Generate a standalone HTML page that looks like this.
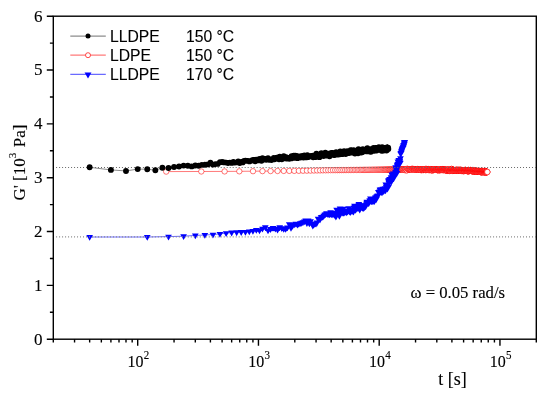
<!DOCTYPE html>
<html><head><meta charset="utf-8"><title>G' vs t</title>
<style>html,body{margin:0;padding:0;background:#fff;width:550px;height:397px;overflow:hidden}svg{display:block}</style>
</head><body>
<svg width="550" height="397" viewBox="0 0 550 397">
<rect width="550" height="397" fill="#fff"/>
<polyline fill="none" stroke="#8c8c8c" stroke-width="1" points="89.65,167.3 110.91,169.91 126,170.95 137.7,169.12 147.26,169.2 155.35,170.29 162.35,167.73 168.52,168.02 174.05,167.03 179.05,166.5 183.61,165.62 187.81,165.77 191.69,166.4 195.31,165.55 198.7,165.7 201.88,164.86 204.87,164.75 207.71,164.4 210.4,162.82 212.96,164.53 215.4,164.09 217.73,163.92 219.96,162.12 222.1,161.93 224.16,162.42 226.14,162.6 228.04,163.04 229.88,162.65 231.66,162.91 233.38,161.88 235.05,162.44 236.66,162.36 238.23,161.42 239.75,163.07 241.22,162.06 242.66,162.41 244.06,160.92 245.42,160.7 246.75,160.88 248.04,160.94 249.31,161.38 250.54,160.98 251.75,160.34 252.93,159.85 254.08,160.07 255.21,161.28 256.31,159.65 257.39,160.34 258.45,160.38 259.49,158.85 260.51,159.92 261.51,160.78 262.49,158.21 263.45,159.4 264.39,159.48 265.32,158.88 266.23,159.79 267.13,159.3 268.01,158.17 268.88,159.82 269.73,159.63 270.57,159.77 271.4,160.08 272.21,159.2 273.01,158.95 273.8,157.83 274.58,159.2 275.34,158.22 276.1,158.28 276.84,157.61 277.57,157.77 278.3,158.04 279.01,159.35 279.71,156.8 280.41,157.17 281.09,158.39 281.77,159.24 282.44,158.53 283.1,156.62 283.75,156.11 284.39,158.21 285.03,157.34 285.66,157 286.28,158.52 286.89,158.57 287.5,157.81 288.1,157.83 288.69,157.92 289.27,158.74 289.85,157.96 290.43,157.85 290.99,157.83 291.56,156.2 292.11,158.3 292.66,158.01 293.2,157.65 293.74,155.74 294.27,156.7 294.8,157.77 295.32,155.74 295.84,156.92 296.35,157.79 296.86,156.01 297.36,158.16 297.86,157.33 298.35,156.77 298.84,157.09 299.32,157.3 299.8,156.86 300.27,157.6 300.74,156.21 301.21,156.36 301.67,157.42 302.13,156.63 302.58,155.91 303.03,157.25 303.48,157.61 303.92,156.14 304.36,155.41 304.8,156.31 305.23,156.27 305.66,156.12 306.08,157.37 306.5,155.52 306.92,157.2 307.33,155.27 307.75,155.61 308.15,156.64 308.56,156.98 308.96,156.75 309.36,156.34 309.76,156.16 310.15,156.14 310.54,156.42 310.92,155.83 311.31,156.14 311.69,156.34 312.07,155.88 312.44,156.43 312.82,156.25 313.19,157.31 313.56,156.02 313.92,155.43 314.29,155.44 314.65,155.68 315,156.36 315.36,155.39 315.71,155.91 316.06,156.97 316.41,153.64 316.76,154.7 317.1,155.7 317.44,155.79 317.78,155.64 318.12,155.12 318.45,155.91 318.79,155.6 319.12,154.98 319.45,157.17 319.77,155.59 320.1,154.88 320.42,155.19 320.74,155.06 321.06,155.15 321.38,153.11 321.69,154.76 322.01,155.85 322.32,154.19 322.63,154.98 322.93,155.71 323.24,155.61 323.54,156.05 323.85,153.63 324.15,154.61 324.45,154.58 324.74,155.28 325.04,155.6 325.33,152.74 325.62,155.53 325.91,153.6 326.2,155.17 326.49,153.51 326.78,154.73 327.06,155.46 327.34,154.43 327.62,154.65 327.9,155.08 328.18,154.56 328.46,154.36 328.73,155.54 329.01,155.15 329.28,154.12 329.55,156.37 329.82,153.42 330.09,154.94 330.36,154.02 330.62,154.3 330.89,154.7 331.15,154.31 331.41,154.59 331.67,152.94 331.93,152.93 332.19,154.49 332.44,153.28 332.7,153.21 332.95,152.85 333.21,154.88 333.46,154.46 333.71,154.98 333.96,153.15 334.21,153.82 334.45,152.94 334.7,154.35 334.94,154.94 335.19,153.05 335.43,154.87 335.67,154.41 335.91,153.51 336.15,152.14 336.39,154.65 336.62,153.5 336.86,153.09 337.09,153.82 337.33,153.8 337.56,154.6 337.79,152.68 338.02,154.28 338.25,154.52 338.48,154.47 338.71,153.22 338.93,152.77 339.16,154.07 339.38,153.37 339.61,153.35 339.83,154.3 340.05,153.02 340.27,151.47 340.49,152.88 340.71,151.75 340.93,153.74 341.15,153.34 341.36,152.62 341.58,153.05 341.79,153.66 342.01,153.07 342.22,153.98 342.43,152.92 342.64,153.72 342.85,154.04 343.06,154.11 343.27,152.37 343.48,153.52 343.68,151.43 343.89,152 344.09,151.32 344.3,153.57 344.5,151.82 344.71,152.72 344.91,152.56 345.11,152.66 345.31,152.22 345.51,152.82 345.71,153.97 345.91,152.64 346.1,152.98 346.3,153.31 346.5,152.39 346.69,151.58 346.89,152.08 347.08,153.28 347.27,151.22 347.47,151.99 347.66,153.17 347.85,152.99 348.04,152.38 348.23,152.96 348.42,152.46 348.61,151.43 348.79,151.12 348.98,151.79 349.17,152.94 349.35,151.81 349.54,151.53 349.72,151.61 349.91,151.02 350.09,152.06 350.27,151.24 350.45,152.38 350.63,150.32 350.82,152.31 350.99,151.57 351.17,150.57 351.35,152.55 351.53,151.78 351.71,150.3 351.89,151.29 352.06,152.15 352.24,151.57 352.41,152.48 352.59,152.43 352.76,152.35 352.93,152.08 353.11,152.82 353.28,152.29 353.45,152.12 353.62,150.2 353.79,152.41 353.96,152.7 354.13,151.48 354.3,151.33 354.47,153.12 354.64,150.33 354.8,151.98 354.97,153.43 355.14,150.9 355.3,152.09 355.47,152.97 355.63,151.45 355.8,151.94 355.96,152.18 356.12,150.81 356.29,151.4 356.45,151.67 356.61,152.05 356.77,151.39 356.93,151.25 357.09,150.62 357.25,151.09 357.41,152.01 357.57,151.4 357.73,150.67 357.89,150.66 358.04,153.27 358.2,152.11 358.36,151.72 358.51,149.28 358.67,151.67 358.82,151.55 358.98,152.43 359.13,151.48 359.28,151.09 359.44,151.51 359.59,149.65 359.74,151.86 359.89,151.31 360.04,150.53 360.2,152.03 360.35,152.38 360.5,149.95 360.65,150.49 360.8,151.19 360.94,151.09 361.09,150.64 361.24,150.19 361.39,152.5 361.53,151.67 361.68,149.98 361.83,149.85 361.97,152.12 362.12,151.57 362.26,152.18 362.41,151.4 362.55,150.12 362.7,150.96 362.84,149.13 362.98,150.17 363.13,150.67 363.27,151.09 363.41,150.14 363.55,150.58 363.69,151 363.83,150.92 363.97,151.1 364.11,150.76 364.25,150.35 364.39,151.17 364.53,150.6 364.67,149.93 364.81,150.06 364.95,150.51 365.08,150.42 365.22,150.6 365.36,150.47 365.49,150.59 365.63,150.34 365.77,149.48 365.9,150.73 366.04,151.19 366.17,150.71 366.31,150.22 366.44,150.69 366.57,149.61 366.71,148.9 366.84,150.35 366.97,149.59 367.1,150.83 367.24,149.45 367.37,148.28 367.5,149.46 367.63,151.4 367.76,149.92 367.89,149.16 368.02,149.6 368.15,150.55 368.28,150.52 368.41,150.27 368.54,151.23 368.67,150.64 368.79,150.08 368.92,150.53 369.05,151.31 369.18,150.78 369.3,150.8 369.43,149.21 369.56,149.9 369.68,150.54 369.81,149.76 369.93,150.77 370.06,150.4 370.18,150.62 370.31,149.77 370.43,151.82 370.55,150.83 370.68,149.72 370.8,149.94 370.92,151.8 371.05,149.59 371.17,150.49 371.29,150.55 371.41,149.81 371.53,148.92 371.66,149.92 371.78,150.03 371.9,150.6 372.02,150.33 372.14,149.74 372.26,150.35 372.38,150.1 372.5,149.84 372.62,149.71 372.73,149.48 372.85,150.16 372.97,148.84 373.09,149.15 373.21,149.61 373.32,148.5 373.44,149.25 373.56,148.06 373.68,149.04 373.79,149.97 373.91,149.95 374.02,149.48 374.14,149.34 374.25,148.44 374.37,150.87 374.48,149.88 374.6,150.3 374.71,148.81 374.83,149.33 374.94,148.1 375.06,150.04 375.17,150.15 375.28,148.02 375.39,149.39 375.51,149.9 375.62,148.1 375.73,148.04 375.84,148.61 375.96,148.93 376.07,148.34 376.18,149.41 376.29,149.57 376.4,149.85 376.51,149.89 376.62,150.49 376.73,150.22 376.84,148.36 376.95,148.96 377.06,148.54 377.17,148.52 377.28,149.26 377.39,149.32 377.5,149.67 377.6,148.11 377.71,148.36 377.82,149.27 377.93,149.13 378.03,149.04 378.14,149.22 378.25,148.69 378.35,149.78 378.46,149.51 378.57,149.17 378.67,148.73 378.78,149.09 378.89,147.18 378.99,148.48 379.1,149.23 379.2,148.07 379.31,149.34 379.41,149.3 379.51,148.15 379.62,148.99 379.72,148.93 379.83,149.51 379.93,149.61 380.03,149.12 380.14,148.5 380.24,149.03 380.34,149.08 380.44,149.67 380.55,149.34 380.65,148.57 380.75,148.09 380.85,148.82 380.95,148.54 381.06,148.25 381.16,148.99 381.26,148.7 381.36,149.14 381.46,149.45 381.56,148.74 381.66,150.79 381.76,148.8 381.86,149.86 381.96,149.12 382.06,149.86 382.16,147.23 382.26,148.45 382.36,149.19 382.45,149.45 382.55,150.74 382.65,149.23 382.75,149.94 382.85,149.55 382.94,149.68 383.04,149.34 383.14,148.84 383.24,149.33 383.33,148.14 383.43,149.82 383.53,148.17 383.62,149.11 383.72,150.51 383.82,148.75 383.91,148.92 384.01,149.77 384.1,148.92 384.2,148.28 384.29,149.08 384.39,149.32 384.48,149.41 384.58,148.29 384.67,150.18 384.77,150.11 384.86,148.86 384.96,149.05 385.05,148.52 385.14,149.89 385.24,148.3 385.33,149.33 385.42,148.46 385.52,148.29 385.61,149.34 385.7,149.8 385.8,148.78 385.89,148.28 385.98,149.39 386.07,148.74 386.16,149 386.26,149.91 386.35,149.61 386.44,148.36 386.53,150.46 386.62,148.74 386.71,149.32 386.8,148.24 386.89,148.69 386.98,147.41 387.07,150.05 387.16,149.73 387.25,147.79 387.34,147.57 387.43,147.48 387.52,149.57 387.61,148.34 387.7,148.63 387.79,148.43 387.88,148.57 387.97,147.84 388.06,148.67 388.15,147.58 388.23,148.6 388.32,148.89"/>
<polyline fill="none" stroke="#ff7a7a" stroke-width="1" points="166.2,171.6 201.3,171.49 224.6,171.42 239.3,171.32 253,171.2 262.49,171.12 270.57,171.05 277.57,170.99 283.75,170.94 289.27,170.89 294.27,170.85 298.84,170.81 303.03,170.74 306.92,170.66 310.54,170.59 313.92,170.52 317.1,170.46 320.1,170.4 322.93,170.34 325.62,170.29 328.18,170.24 330.62,170.19 332.95,170.17 335.19,170.15 337.33,170.13 339.38,170.11 341.36,170.09 343.27,170.07 345.11,170.05 346.89,170.03 348.61,170.01 350.27,170 351.89,169.98 353.45,169.97 354.97,169.95 356.45,169.94 357.89,169.92 359.28,169.91 360.65,169.89 361.97,169.88 363.27,169.87 364.53,169.85 365.77,169.84 366.97,169.83 368.15,169.82 369.3,169.81 370.43,169.8 371.53,169.78 372.62,169.77 373.68,169.76 374.71,169.75 375.73,169.74 376.73,169.73 377.71,169.72 378.67,169.71 379.62,169.7 380.55,169.69 381.46,169.69 382.36,169.68 383.24,169.67 384.1,169.66 384.96,169.65 385.8,169.64 386.62,169.63 387.43,169.63 388.23,169.62 389.02,169.61 389.8,169.6 390.57,169.59 391.32,169.59 392.06,169.58 392.8,169.57 393.52,169.56 394.23,169.56 394.94,169.55 395.63,169.71 396.32,169.46 397,169.21 397.66,169.58 398.32,169.35 398.97,170.06 399.62,169.77 400.25,169.46 400.88,169.33 401.5,169.24 402.12,169.15 402.72,169.35 403.32,169.57 403.91,169.64 404.5,169.65 405.08,170.18 405.65,169.2 406.22,169.44 406.78,170.41 407.33,168.77 407.88,169.24 408.43,169.48 408.97,169.46 409.5,169.55 410.02,169.32 410.55,169.54 411.06,169.43 411.57,169.69 412.08,168.77 412.58,169.12 413.08,169.44 413.57,169.09 414.06,169.09 414.54,169.68 415.02,169.24 415.5,169.7 415.97,169.74 416.43,169.59 416.9,169.67 417.35,169.46 417.81,169.01 418.26,169.5 418.7,169.68 419.15,169.34 419.59,169.49 420.02,169.8 420.45,169.23 420.88,169.77 421.31,170.2 421.73,169.36 422.14,169.61 422.56,169.51 422.97,170.11 423.38,169.69 423.78,169.9 424.19,169.35 424.58,169.59 424.98,169.6 425.37,168.98 425.76,170.11 426.15,169.93 426.53,169.01 426.92,169.89 427.29,169.58 427.67,169.79 428.04,169.77 428.41,169.12 428.78,169.58 429.15,170.18 429.51,169.46 429.87,169.31 430.23,169.19 430.58,169.25 430.94,169.8 431.29,170.28 431.64,169.84 431.98,169.78 432.33,170.48 432.67,169.52 433.01,169.47 433.34,169.9 433.68,169.91 434.01,169.37 434.34,169.32 434.67,169.83 435,169.82 435.32,169.28 435.65,169.67 435.97,169.56 436.29,169.91 436.6,169.71 436.92,169.73 437.23,169.64 437.54,170.14 437.85,170.26 438.16,169.65 438.46,170.08 438.77,169.52 439.07,169.81 439.37,170.05 439.67,170.33 439.97,169.67 440.26,169.78 440.56,169.88 440.85,169.3 441.14,169.84 441.43,169.6 441.72,169.98 442,169.46 442.29,169.17 442.57,169.88 442.85,169.97 443.13,169.69 443.41,170.2 443.68,169.8 443.96,169.69 444.23,170.08 444.51,169.37 444.78,169.69 445.05,169.93 445.31,170.24 445.58,169.89 445.85,170.06 446.11,169.73 446.37,170.08 446.64,170.56 446.9,169.74 447.15,170.82 447.41,169.77 447.67,170.01 447.92,170.07 448.18,170.38 448.43,169.59 448.68,169.3 448.93,170.25 449.18,170.32 449.43,170.27 449.68,170.98 449.92,170.14 450.17,170.16 450.41,170.4 450.65,170.21 450.89,170.67 451.13,169.66 451.37,169.97 451.61,168.9 451.85,170.4 452.08,169.99 452.32,170.45 452.55,170.89 452.78,170.14 453.01,170.06 453.25,169.98 453.47,169.87 453.7,169.94 453.93,170.4 454.16,170.19 454.38,170.21 454.61,170.13 454.83,170.52 455.05,170.37 455.28,170.16 455.5,170.45 455.72,170.17 455.94,169.82 456.15,170.74 456.37,170.4 456.59,169.91 456.8,170.63 457.02,170.37 457.23,169.71 457.44,170.83 457.65,170.39 457.87,170.59 458.08,170.35 458.29,170.24 458.49,169.75 458.7,170.64 458.91,170.31 459.11,170.21 459.32,170.44 459.52,170.35 459.73,170.56 459.93,170.2 460.13,170.32 460.33,169.59 460.53,170.2 460.73,170.59 460.93,170.83 461.13,170.24 461.33,170.33 461.53,170.93 461.72,170.27 461.92,170.64 462.11,170.98 462.31,170.41 462.5,170.83 462.69,170.16 462.88,170.48 463.07,170.39 463.26,170.46 463.45,170.82 463.64,171.27 463.83,170.2 464.02,170.24 464.21,170.62 464.39,170.08 464.58,170.63 464.76,170.66 464.95,170.37 465.13,170.66 465.31,169.93 465.5,170.75 465.68,169.94 465.86,170.25 466.04,170.3 466.22,170.36 466.4,170.8 466.58,170.54 466.76,170.37 466.93,170.71 467.11,171.08 467.29,170.53 467.46,170.66 467.64,170.97 467.81,170.64 467.99,170.1 468.16,171.42 468.33,171.33 468.5,169.87 468.68,170.55 468.85,170.72 469.02,170.91 469.19,170.81 469.36,170.49 469.53,170.22 469.69,170.63 469.86,170.96 470.03,170.22 470.2,170.26 470.36,170.62 470.53,169.96 470.69,170.56 470.86,170.52 471.02,170.84 471.19,170.45 471.35,170.4 471.51,170.58 471.67,170.72 471.83,170.52 472,170.77 472.16,171.04 472.32,171.2 472.48,171.4 472.64,170.54 472.79,170.68 472.95,169.97 473.11,171.52 473.27,170.61 473.42,170.87 473.58,171.07 473.74,170.43 473.89,171.08 474.05,170.92 474.2,170.3 474.35,171.05 474.51,171.38 474.66,170.32 474.81,171.27 474.97,171.08 475.12,171.18 475.27,171.18 475.42,171.5 475.57,170.97 475.72,171.37 475.87,170.93 476.02,171.34 476.17,170.81 476.32,171.07 476.46,171.73 476.61,171.29 476.76,171.09 476.91,170.76 477.05,170.89 477.2,171.25 477.34,171.52 477.49,171.36 477.63,171.4 477.78,171.21 477.92,171.71 478.07,171.12 478.21,171.07 478.35,171.59 478.49,171.31 478.64,171.2 478.78,171.11 478.92,171.23 479.06,171.55 479.2,171.47 479.34,170.93 479.48,171.52 479.62,171.44 479.76,171.04 479.9,171.67 480.03,171.31 480.17,171.31 480.31,171.71 480.45,171.91 480.58,171.22 480.72,171.62 480.86,171.17 480.99,172.3 481.13,171.33 481.26,171.93 481.4,171.3 481.53,171.82 481.66,172.32 481.8,170.67 481.93,171.41 482.06,171.75 482.2,171.55 482.33,171.36 482.46,172.36 482.59,171.65 482.72,171.05 482.85,171.94 482.99,171.05 483.12,172.06 483.25,171.47 483.37,171.73 483.5,172.13 483.63,171.74 483.76,171.23 483.89,171.13 484.02,172.15 484.15,172 484.27,171.47 484.4,172.07 484.53,171.95 484.65,172.01 484.78,171.01 484.91,171.7 485.03,172.13 485.16,172.08 485.28,172.15 485.41,170.99 485.53,171.92 485.66,172.04 485.78,172.77 485.9,171.55 486.03,171.9 486.15,171.91 486.27,171.92 486.39,171.93 486.52,171.94 486.64,171.95 486.76,171.96 486.88,171.97 487,171.98 487.12,171.99 487.24,172 487.36,172"/>
<polyline fill="none" stroke="#6a6aff" stroke-width="1" points="89.65,237 147.26,237 168.52,236.6 183.61,236.2 195.31,235.41 204.87,235 212.96,234.59 219.96,233.9 226.14,233.16 231.66,232.54 236.66,232.27 241.22,232.05 245.42,231.87 249.31,231.45 252.93,230.91 256.31,229.95 259.49,230.41 262.49,228.74 265.32,227.19 268.01,230.33 270.57,229.03 273.01,227.84 275.34,228.75 277.57,229.71 279.71,227.09 281.77,228.16 283.75,228.95 285.66,228.87 287.5,227.45 289.27,224.22 290.99,227.79 292.66,225.64 294.27,224.35 295.84,223.69 297.36,224.67 298.84,223.93 300.27,223.12 301.67,222.76 303.03,222.23 304.36,221.49 305.66,220.44 306.92,223.08 308.15,220.48 309.36,223.36 310.54,221.31 311.69,223.7 312.82,225.61 313.92,224.43 315,223.57 316.06,223.52 317.1,222.54 318.12,218.8 319.12,219.3 320.1,219.31 321.06,217.26 322.01,216.88 322.93,216.68 323.85,215.62 324.74,214.73 325.62,214.17 326.49,213.22 327.34,213.87 328.18,213.79 329.01,213.99 329.82,214.44 330.62,212.25 331.41,214.09 332.19,214.41 332.95,212.97 333.71,214.2 334.45,214.85 335.19,213.74 335.91,216.58 336.62,209.74 337.33,212.81 338.02,210.26 338.71,213.9 339.38,215.97 340.05,208.49 340.71,212.12 341.36,212.62 342.01,211.42 342.64,212.56 343.27,208.6 343.89,212.88 344.5,212.16 345.11,211.62 345.71,210.72 346.3,212.39 346.89,210.77 347.47,211.72 348.04,210.64 348.61,208.17 349.17,211.22 349.72,211.51 350.27,212.08 350.82,209.44 351.35,210.27 351.89,210.84 352.41,209.84 352.93,211.03 353.45,211.75 353.96,207.35 354.47,205.61 354.97,209.17 355.47,209.92 355.96,208.89 356.45,208.55 356.93,206.37 357.41,206.06 357.89,208.13 358.36,205.43 358.82,204 359.28,204.97 359.74,209.68 360.2,208.43 360.65,205.34 361.09,205.33 361.53,206.53 361.97,205.4 362.41,207.91 362.84,206.29 363.27,205.12 363.69,208.04 364.11,205.81 364.53,206.82 364.95,206.58 365.36,205.83 365.77,206.14 366.17,204.47 366.57,202.64 366.97,201.76 367.37,202.45 367.76,202.63 368.15,203.08 368.54,202.74 368.92,202.91 369.3,201.97 369.68,200.45 370.06,200.18 370.43,198.36 370.8,200.57 371.17,201.22 371.53,201.15 371.9,200.24 372.26,200.05 372.62,201.26 372.97,200.03 373.32,200.77 373.68,200.46 374.02,199.9 374.37,201.09 374.71,198.71 375.06,198.77 375.39,197.64 375.73,197.06 376.07,199.3 376.4,198.96 376.73,196.3 377.06,196.38 377.39,196.53 377.71,195.52 378.03,195.44 378.35,191.91 378.67,192.1 378.99,192.86 379.31,193.49 379.62,191.34 379.93,189.64 380.24,190.03 380.55,189.53 380.85,189.17 381.16,191.88 381.46,189.2 381.76,189.85 382.06,192.3 382.36,191.01 382.65,189.87 382.94,188.61 383.24,189.72 383.53,191.05 383.82,189.73 384.1,190.38 384.39,188.87 384.67,189.25 384.96,188.28 385.24,188.98 385.52,190.29 385.8,184.4 386.07,186.7 386.35,186.88 386.62,184.83 386.89,184.93 387.16,186.7 387.43,188.71 387.7,185.54 387.97,184.52 388.23,180.35 388.5,186.9 388.76,182.79 389.02,182.16 389.28,179.58 389.54,181.3 389.8,178.82 390.06,180.76 390.31,181.15 390.57,179.9 390.82,180.03 391.07,177.4 391.32,181.6 391.57,177.08 391.82,174.39 392.06,177.3 392.31,175.79 392.55,174.94 392.8,175.9 393.04,176.84 393.28,173.55 393.52,175.29 393.76,178.08 394,176.25 394.23,174.23 394.47,174.45 394.7,173.62 394.94,173.43 395.17,174.65 395.4,172.54 395.63,167.3 395.86,171.46 396.09,169.11 396.32,171.59 396.55,168.46 396.77,169.38 397,172.83 397.22,165.79 397.44,165.04 397.66,163.87 397.88,161.32 398.1,161.77 398.32,165.66 398.54,162.98 398.76,159.85 398.97,159.96 399.19,163.5 399.4,160.05 399.62,160.21 399.83,160.95 400.04,162.35 400.25,162.84 400.46,158.22 400.67,153.65 400.88,152.93 401.09,153.15 401.3,152.43 401.5,150.89 401.71,150.86 401.91,150.26 402.12,149.63 402.32,148.82 402.52,147.84 402.72,147.83 402.92,146.74 403.12,147.92 403.32,146.87 403.52,145.09 403.72,145.92 403.91,144.88 404.11,142.48 404.3,144 404.5,142.66 404.69,141.9"/>
<g fill="#fff" stroke="#ff0000" stroke-width="0.55">
<circle cx="166.2" cy="171.6" r="2.7"/>
<circle cx="201.3" cy="171.49" r="2.7"/>
<circle cx="224.6" cy="171.42" r="2.7"/>
<circle cx="239.3" cy="171.32" r="2.7"/>
<circle cx="253" cy="171.2" r="2.7"/>
<circle cx="262.49" cy="171.12" r="2.7"/>
<circle cx="270.57" cy="171.05" r="2.7"/>
<circle cx="277.57" cy="170.99" r="2.7"/>
<circle cx="283.75" cy="170.94" r="2.7"/>
<circle cx="289.27" cy="170.89" r="2.7"/>
<circle cx="294.27" cy="170.85" r="2.7"/>
<circle cx="298.84" cy="170.81" r="2.7"/>
<circle cx="303.03" cy="170.74" r="2.7"/>
<circle cx="306.92" cy="170.66" r="2.7"/>
<circle cx="310.54" cy="170.59" r="2.7"/>
<circle cx="313.92" cy="170.52" r="2.7"/>
<circle cx="317.1" cy="170.46" r="2.7"/>
<circle cx="320.1" cy="170.4" r="2.7"/>
<circle cx="322.93" cy="170.34" r="2.7"/>
<circle cx="325.62" cy="170.29" r="2.7"/>
<circle cx="328.18" cy="170.24" r="2.7"/>
<circle cx="330.62" cy="170.19" r="2.7"/>
<circle cx="332.95" cy="170.17" r="2.7"/>
<circle cx="335.19" cy="170.15" r="2.7"/>
<circle cx="337.33" cy="170.13" r="2.7"/>
<circle cx="339.38" cy="170.11" r="2.7"/>
<circle cx="341.36" cy="170.09" r="2.7"/>
<circle cx="343.27" cy="170.07" r="2.7"/>
<circle cx="345.11" cy="170.05" r="2.7"/>
<circle cx="346.89" cy="170.03" r="2.7"/>
<circle cx="348.61" cy="170.01" r="2.7"/>
<circle cx="350.27" cy="170" r="2.7"/>
<circle cx="351.89" cy="169.98" r="2.7"/>
<circle cx="353.45" cy="169.97" r="2.7"/>
<circle cx="354.97" cy="169.95" r="2.7"/>
<circle cx="356.45" cy="169.94" r="2.7"/>
<circle cx="357.89" cy="169.92" r="2.7"/>
<circle cx="359.28" cy="169.91" r="2.7"/>
<circle cx="360.65" cy="169.89" r="2.7"/>
<circle cx="361.97" cy="169.88" r="2.7"/>
<circle cx="363.27" cy="169.87" r="2.7"/>
<circle cx="364.53" cy="169.85" r="2.7"/>
<circle cx="365.77" cy="169.84" r="2.7"/>
<circle cx="366.97" cy="169.83" r="2.7"/>
<circle cx="368.15" cy="169.82" r="2.7"/>
<circle cx="369.3" cy="169.81" r="2.7"/>
<circle cx="370.43" cy="169.8" r="2.7"/>
<circle cx="371.53" cy="169.78" r="2.7"/>
<circle cx="372.62" cy="169.77" r="2.7"/>
<circle cx="373.68" cy="169.76" r="2.7"/>
<circle cx="374.71" cy="169.75" r="2.7"/>
<circle cx="375.73" cy="169.74" r="2.7" stroke-width="0.55"/>
<circle cx="376.73" cy="169.73" r="2.7" stroke-width="0.56"/>
<circle cx="377.71" cy="169.72" r="2.7" stroke-width="0.57"/>
<circle cx="378.67" cy="169.71" r="2.7" stroke-width="0.58"/>
<circle cx="379.62" cy="169.7" r="2.7" stroke-width="0.59"/>
<circle cx="380.55" cy="169.69" r="2.7" stroke-width="0.6"/>
<circle cx="381.46" cy="169.69" r="2.7" stroke-width="0.61"/>
<circle cx="382.36" cy="169.68" r="2.7" stroke-width="0.62"/>
<circle cx="383.24" cy="169.67" r="2.7" stroke-width="0.63"/>
<circle cx="384.1" cy="169.66" r="2.7" stroke-width="0.63"/>
<circle cx="384.96" cy="169.65" r="2.7" stroke-width="0.64"/>
<circle cx="385.8" cy="169.64" r="2.7" stroke-width="0.65"/>
<circle cx="386.62" cy="169.63" r="2.7" stroke-width="0.66"/>
<circle cx="387.43" cy="169.63" r="2.7" stroke-width="0.66"/>
<circle cx="388.23" cy="169.62" r="2.7" stroke-width="0.67"/>
<circle cx="389.02" cy="169.61" r="2.7" stroke-width="0.68"/>
<circle cx="389.8" cy="169.6" r="2.7" stroke-width="0.68"/>
<circle cx="390.57" cy="169.59" r="2.7" stroke-width="0.69"/>
<circle cx="391.32" cy="169.59" r="2.7" stroke-width="0.7"/>
<circle cx="392.06" cy="169.58" r="2.7" stroke-width="0.7"/>
<circle cx="392.8" cy="169.57" r="2.7" stroke-width="0.71"/>
<circle cx="393.52" cy="169.56" r="2.7" stroke-width="0.71"/>
<circle cx="394.23" cy="169.56" r="2.7" stroke-width="0.72"/>
<circle cx="394.94" cy="169.55" r="2.7" stroke-width="0.72"/>
<circle cx="395.63" cy="169.71" r="2.7" stroke-width="0.73"/>
<circle cx="396.32" cy="169.46" r="2.7" stroke-width="0.73"/>
<circle cx="397" cy="169.21" r="2.7" stroke-width="0.74"/>
<circle cx="397.66" cy="169.58" r="2.7" stroke-width="0.74"/>
<circle cx="398.32" cy="169.35" r="2.7" stroke-width="0.75"/>
<circle cx="398.97" cy="170.06" r="2.7" stroke-width="0.75"/>
<circle cx="399.62" cy="169.77" r="2.7" stroke-width="0.76"/>
<circle cx="400.25" cy="169.46" r="2.7" stroke-width="0.76"/>
<circle cx="400.88" cy="169.33" r="2.7" stroke-width="0.77"/>
<circle cx="401.5" cy="169.24" r="2.7" stroke-width="0.77"/>
<circle cx="402.12" cy="169.15" r="2.7" stroke-width="0.77"/>
<circle cx="402.72" cy="169.35" r="2.7" stroke-width="0.78"/>
<circle cx="403.32" cy="169.57" r="2.7" stroke-width="0.78"/>
<circle cx="403.91" cy="169.64" r="2.7" stroke-width="0.79"/>
<circle cx="404.5" cy="169.65" r="2.7" stroke-width="0.79"/>
<circle cx="405.08" cy="170.18" r="2.7" stroke-width="0.79"/>
<circle cx="405.65" cy="169.2" r="2.7" stroke-width="0.8"/>
<circle cx="406.22" cy="169.44" r="2.7" stroke-width="0.8"/>
<circle cx="406.78" cy="170.41" r="2.7" stroke-width="0.8"/>
<circle cx="407.33" cy="168.77" r="2.7" stroke-width="0.81"/>
<circle cx="407.88" cy="169.24" r="2.7" stroke-width="0.81"/>
<circle cx="408.43" cy="169.48" r="2.7" stroke-width="0.81"/>
<circle cx="408.97" cy="169.46" r="2.7" stroke-width="0.82"/>
<circle cx="409.5" cy="169.55" r="2.7" stroke-width="0.82"/>
<circle cx="410.02" cy="169.32" r="2.7" stroke-width="0.82"/>
<circle cx="410.55" cy="169.54" r="2.7" stroke-width="0.83"/>
<circle cx="411.06" cy="169.43" r="2.7" stroke-width="0.83"/>
<circle cx="411.57" cy="169.69" r="2.7" stroke-width="0.83"/>
<circle cx="412.08" cy="168.77" r="2.7" stroke-width="0.83"/>
<circle cx="412.58" cy="169.12" r="2.7" stroke-width="0.84"/>
<circle cx="413.08" cy="169.44" r="2.7" stroke-width="0.84"/>
<circle cx="413.57" cy="169.09" r="2.7" stroke-width="0.84"/>
<circle cx="414.06" cy="169.09" r="2.7" stroke-width="0.85"/>
<circle cx="414.54" cy="169.68" r="2.7" stroke-width="0.85"/>
<circle cx="415.02" cy="169.24" r="2.7" stroke-width="0.85"/>
<circle cx="415.5" cy="169.7" r="2.7" stroke-width="0.85"/>
<circle cx="415.97" cy="169.74" r="2.7" stroke-width="0.86"/>
<circle cx="416.43" cy="169.59" r="2.7" stroke-width="0.86"/>
<circle cx="416.9" cy="169.67" r="2.7" stroke-width="0.86"/>
<circle cx="417.35" cy="169.46" r="2.7" stroke-width="0.86"/>
<circle cx="417.81" cy="169.01" r="2.7" stroke-width="0.86"/>
<circle cx="418.26" cy="169.5" r="2.7" stroke-width="0.87"/>
<circle cx="418.7" cy="169.68" r="2.7" stroke-width="0.87"/>
<circle cx="419.15" cy="169.34" r="2.7" stroke-width="0.87"/>
<circle cx="419.59" cy="169.49" r="2.7" stroke-width="0.87"/>
<circle cx="420.02" cy="169.8" r="2.7" stroke-width="0.87"/>
<circle cx="420.45" cy="169.23" r="2.7" stroke-width="0.88"/>
<circle cx="420.88" cy="169.77" r="2.7" stroke-width="0.88"/>
<circle cx="421.31" cy="170.2" r="2.7" stroke-width="0.88"/>
<circle cx="421.73" cy="169.36" r="2.7" stroke-width="0.88"/>
<circle cx="422.14" cy="169.61" r="2.7" stroke-width="0.88"/>
<circle cx="422.56" cy="169.51" r="2.7" stroke-width="0.89"/>
<circle cx="422.97" cy="170.11" r="2.7" stroke-width="0.89"/>
<circle cx="423.38" cy="169.69" r="2.7" stroke-width="0.89"/>
<circle cx="423.78" cy="169.9" r="2.7" stroke-width="0.89"/>
<circle cx="424.19" cy="169.35" r="2.7" stroke-width="0.89"/>
<circle cx="424.58" cy="169.59" r="2.7" stroke-width="0.9"/>
<circle cx="424.98" cy="169.6" r="2.7" stroke-width="0.9"/>
<circle cx="425.37" cy="168.98" r="2.7" stroke-width="0.9"/>
<circle cx="425.76" cy="170.11" r="2.7" stroke-width="0.9"/>
<circle cx="426.15" cy="169.93" r="2.7" stroke-width="0.9"/>
<circle cx="426.53" cy="169.01" r="2.7" stroke-width="0.9"/>
<circle cx="426.92" cy="169.89" r="2.7" stroke-width="0.91"/>
<circle cx="427.29" cy="169.58" r="2.7" stroke-width="0.91"/>
<circle cx="427.67" cy="169.79" r="2.7" stroke-width="0.91"/>
<circle cx="428.04" cy="169.77" r="2.7" stroke-width="0.91"/>
<circle cx="428.41" cy="169.12" r="2.7" stroke-width="0.91"/>
<circle cx="428.78" cy="169.58" r="2.7" stroke-width="0.91"/>
<circle cx="429.15" cy="170.18" r="2.7" stroke-width="0.91"/>
<circle cx="429.51" cy="169.46" r="2.7" stroke-width="0.92"/>
<circle cx="429.87" cy="169.31" r="2.7" stroke-width="0.92"/>
<circle cx="430.23" cy="169.19" r="2.7" stroke-width="0.92"/>
<circle cx="430.58" cy="169.25" r="2.7" stroke-width="0.92"/>
<circle cx="430.94" cy="169.8" r="2.7" stroke-width="0.92"/>
<circle cx="431.29" cy="170.28" r="2.7" stroke-width="0.92"/>
<circle cx="431.64" cy="169.84" r="2.7" stroke-width="0.92"/>
<circle cx="431.98" cy="169.78" r="2.7" stroke-width="0.92"/>
<circle cx="432.33" cy="170.48" r="2.7" stroke-width="0.93"/>
<circle cx="432.67" cy="169.52" r="2.7" stroke-width="0.93"/>
<circle cx="433.01" cy="169.47" r="2.7" stroke-width="0.93"/>
<circle cx="433.34" cy="169.9" r="2.7" stroke-width="0.93"/>
<circle cx="433.68" cy="169.91" r="2.7" stroke-width="0.93"/>
<circle cx="434.01" cy="169.37" r="2.7" stroke-width="0.93"/>
<circle cx="434.34" cy="169.32" r="2.7" stroke-width="0.93"/>
<circle cx="434.67" cy="169.83" r="2.7" stroke-width="0.93"/>
<circle cx="435" cy="169.82" r="2.7" stroke-width="0.94"/>
<circle cx="435.32" cy="169.28" r="2.7" stroke-width="0.94"/>
<circle cx="435.65" cy="169.67" r="2.7" stroke-width="0.94"/>
<circle cx="435.97" cy="169.56" r="2.7" stroke-width="0.94"/>
<circle cx="436.29" cy="169.91" r="2.7" stroke-width="0.94"/>
<circle cx="436.6" cy="169.71" r="2.7" stroke-width="0.94"/>
<circle cx="436.92" cy="169.73" r="2.7" stroke-width="0.94"/>
<circle cx="437.23" cy="169.64" r="2.7" stroke-width="0.94"/>
<circle cx="437.54" cy="170.14" r="2.7" stroke-width="0.94"/>
<circle cx="437.85" cy="170.26" r="2.7" stroke-width="0.95"/>
<circle cx="438.16" cy="169.65" r="2.7" stroke-width="0.95"/>
<circle cx="438.46" cy="170.08" r="2.7" stroke-width="0.95"/>
<circle cx="438.77" cy="169.52" r="2.7" stroke-width="0.95"/>
<circle cx="439.07" cy="169.81" r="2.7" stroke-width="0.95"/>
<circle cx="439.37" cy="170.05" r="2.7" stroke-width="0.95"/>
<circle cx="439.67" cy="170.33" r="2.7" stroke-width="0.95"/>
<circle cx="439.97" cy="169.67" r="2.7" stroke-width="0.95"/>
<circle cx="440.26" cy="169.78" r="2.7" stroke-width="0.95"/>
<circle cx="440.56" cy="169.88" r="2.7" stroke-width="0.95"/>
<circle cx="440.85" cy="169.3" r="2.7" stroke-width="0.95"/>
<circle cx="441.14" cy="169.84" r="2.7" stroke-width="0.95"/>
<circle cx="441.43" cy="169.6" r="2.7" stroke-width="0.95"/>
<circle cx="441.72" cy="169.98" r="2.7" stroke-width="0.95"/>
<circle cx="442" cy="169.46" r="2.7" stroke-width="0.95"/>
<circle cx="442.29" cy="169.17" r="2.7" stroke-width="0.95"/>
<circle cx="442.57" cy="169.88" r="2.7" stroke-width="0.95"/>
<circle cx="442.85" cy="169.97" r="2.7" stroke-width="0.95"/>
<circle cx="443.13" cy="169.69" r="2.7" stroke-width="0.95"/>
<circle cx="443.41" cy="170.2" r="2.7" stroke-width="0.95"/>
<circle cx="443.68" cy="169.8" r="2.7" stroke-width="0.95"/>
<circle cx="443.96" cy="169.69" r="2.7" stroke-width="0.95"/>
<circle cx="444.23" cy="170.08" r="2.7" stroke-width="0.95"/>
<circle cx="444.51" cy="169.37" r="2.7" stroke-width="0.95"/>
<circle cx="444.78" cy="169.69" r="2.7" stroke-width="0.95"/>
<circle cx="445.05" cy="169.93" r="2.7" stroke-width="0.95"/>
<circle cx="445.31" cy="170.24" r="2.7" stroke-width="0.95"/>
<circle cx="445.58" cy="169.89" r="2.7" stroke-width="0.95"/>
<circle cx="445.85" cy="170.06" r="2.7" stroke-width="0.95"/>
<circle cx="446.11" cy="169.73" r="2.7" stroke-width="0.95"/>
<circle cx="446.37" cy="170.08" r="2.7" stroke-width="0.95"/>
<circle cx="446.64" cy="170.56" r="2.7" stroke-width="0.95"/>
<circle cx="446.9" cy="169.74" r="2.7" stroke-width="0.95"/>
<circle cx="447.15" cy="170.82" r="2.7" stroke-width="0.95"/>
<circle cx="447.41" cy="169.77" r="2.7" stroke-width="0.95"/>
<circle cx="447.67" cy="170.01" r="2.7" stroke-width="0.95"/>
<circle cx="447.92" cy="170.07" r="2.7" stroke-width="0.95"/>
<circle cx="448.18" cy="170.38" r="2.7" stroke-width="0.95"/>
<circle cx="448.43" cy="169.59" r="2.7" stroke-width="0.95"/>
<circle cx="448.68" cy="169.3" r="2.7" stroke-width="0.95"/>
<circle cx="448.93" cy="170.25" r="2.7" stroke-width="0.95"/>
<circle cx="449.18" cy="170.32" r="2.7" stroke-width="0.95"/>
<circle cx="449.43" cy="170.27" r="2.7" stroke-width="0.95"/>
<circle cx="449.68" cy="170.98" r="2.7" stroke-width="0.95"/>
<circle cx="449.92" cy="170.14" r="2.7" stroke-width="0.95"/>
<circle cx="450.17" cy="170.16" r="2.7" stroke-width="0.95"/>
<circle cx="450.41" cy="170.4" r="2.7" stroke-width="0.95"/>
<circle cx="450.65" cy="170.21" r="2.7" stroke-width="0.95"/>
<circle cx="450.89" cy="170.67" r="2.7" stroke-width="0.95"/>
<circle cx="451.13" cy="169.66" r="2.7" stroke-width="0.95"/>
<circle cx="451.37" cy="169.97" r="2.7" stroke-width="0.95"/>
<circle cx="451.61" cy="168.9" r="2.7" stroke-width="0.95"/>
<circle cx="451.85" cy="170.4" r="2.7" stroke-width="0.95"/>
<circle cx="452.08" cy="169.99" r="2.7" stroke-width="0.95"/>
<circle cx="452.32" cy="170.45" r="2.7" stroke-width="0.95"/>
<circle cx="452.55" cy="170.89" r="2.7" stroke-width="0.95"/>
<circle cx="452.78" cy="170.14" r="2.7" stroke-width="0.95"/>
<circle cx="453.01" cy="170.06" r="2.7" stroke-width="0.95"/>
<circle cx="453.25" cy="169.98" r="2.7" stroke-width="0.95"/>
<circle cx="453.47" cy="169.87" r="2.7" stroke-width="0.95"/>
<circle cx="453.7" cy="169.94" r="2.7" stroke-width="0.95"/>
<circle cx="453.93" cy="170.4" r="2.7" stroke-width="0.95"/>
<circle cx="454.16" cy="170.19" r="2.7" stroke-width="0.95"/>
<circle cx="454.38" cy="170.21" r="2.7" stroke-width="0.95"/>
<circle cx="454.61" cy="170.13" r="2.7" stroke-width="0.95"/>
<circle cx="454.83" cy="170.52" r="2.7" stroke-width="0.95"/>
<circle cx="455.05" cy="170.37" r="2.7" stroke-width="0.95"/>
<circle cx="455.28" cy="170.16" r="2.7" stroke-width="0.95"/>
<circle cx="455.5" cy="170.45" r="2.7" stroke-width="0.95"/>
<circle cx="455.72" cy="170.17" r="2.7" stroke-width="0.95"/>
<circle cx="455.94" cy="169.82" r="2.7" stroke-width="0.95"/>
<circle cx="456.15" cy="170.74" r="2.7" stroke-width="0.95"/>
<circle cx="456.37" cy="170.4" r="2.7" stroke-width="0.95"/>
<circle cx="456.59" cy="169.91" r="2.7" stroke-width="0.95"/>
<circle cx="456.8" cy="170.63" r="2.7" stroke-width="0.95"/>
<circle cx="457.02" cy="170.37" r="2.7" stroke-width="0.95"/>
<circle cx="457.23" cy="169.71" r="2.7" stroke-width="0.95"/>
<circle cx="457.44" cy="170.83" r="2.7" stroke-width="0.95"/>
<circle cx="457.65" cy="170.39" r="2.7" stroke-width="0.95"/>
<circle cx="457.87" cy="170.59" r="2.7" stroke-width="0.95"/>
<circle cx="458.08" cy="170.35" r="2.7" stroke-width="0.95"/>
<circle cx="458.29" cy="170.24" r="2.7" stroke-width="0.95"/>
<circle cx="458.49" cy="169.75" r="2.7" stroke-width="0.95"/>
<circle cx="458.7" cy="170.64" r="2.7" stroke-width="0.95"/>
<circle cx="458.91" cy="170.31" r="2.7" stroke-width="0.95"/>
<circle cx="459.11" cy="170.21" r="2.7" stroke-width="0.95"/>
<circle cx="459.32" cy="170.44" r="2.7" stroke-width="0.95"/>
<circle cx="459.52" cy="170.35" r="2.7" stroke-width="0.95"/>
<circle cx="459.73" cy="170.56" r="2.7" stroke-width="0.95"/>
<circle cx="459.93" cy="170.2" r="2.7" stroke-width="0.95"/>
<circle cx="460.13" cy="170.32" r="2.7" stroke-width="0.95"/>
<circle cx="460.33" cy="169.59" r="2.7" stroke-width="0.95"/>
<circle cx="460.53" cy="170.2" r="2.7" stroke-width="0.95"/>
<circle cx="460.73" cy="170.59" r="2.7" stroke-width="0.95"/>
<circle cx="460.93" cy="170.83" r="2.7" stroke-width="0.95"/>
<circle cx="461.13" cy="170.24" r="2.7" stroke-width="0.95"/>
<circle cx="461.33" cy="170.33" r="2.7" stroke-width="0.95"/>
<circle cx="461.53" cy="170.93" r="2.7" stroke-width="0.95"/>
<circle cx="461.72" cy="170.27" r="2.7" stroke-width="0.95"/>
<circle cx="461.92" cy="170.64" r="2.7" stroke-width="0.95"/>
<circle cx="462.11" cy="170.98" r="2.7" stroke-width="0.95"/>
<circle cx="462.31" cy="170.41" r="2.7" stroke-width="0.95"/>
<circle cx="462.5" cy="170.83" r="2.7" stroke-width="0.95"/>
<circle cx="462.69" cy="170.16" r="2.7" stroke-width="0.95"/>
<circle cx="462.88" cy="170.48" r="2.7" stroke-width="0.95"/>
<circle cx="463.07" cy="170.39" r="2.7" stroke-width="0.95"/>
<circle cx="463.26" cy="170.46" r="2.7" stroke-width="0.95"/>
<circle cx="463.45" cy="170.82" r="2.7" stroke-width="0.95"/>
<circle cx="463.64" cy="171.27" r="2.7" stroke-width="0.95"/>
<circle cx="463.83" cy="170.2" r="2.7" stroke-width="0.95"/>
<circle cx="464.02" cy="170.24" r="2.7" stroke-width="0.95"/>
<circle cx="464.21" cy="170.62" r="2.7" stroke-width="0.95"/>
<circle cx="464.39" cy="170.08" r="2.7" stroke-width="0.95"/>
<circle cx="464.58" cy="170.63" r="2.7" stroke-width="0.95"/>
<circle cx="464.76" cy="170.66" r="2.7" stroke-width="0.95"/>
<circle cx="464.95" cy="170.37" r="2.7" stroke-width="0.95"/>
<circle cx="465.13" cy="170.66" r="2.7" stroke-width="0.95"/>
<circle cx="465.31" cy="169.93" r="2.7" stroke-width="0.95"/>
<circle cx="465.5" cy="170.75" r="2.7" stroke-width="0.95"/>
<circle cx="465.68" cy="169.94" r="2.7" stroke-width="0.95"/>
<circle cx="465.86" cy="170.25" r="2.7" stroke-width="0.95"/>
<circle cx="466.04" cy="170.3" r="2.7" stroke-width="0.95"/>
<circle cx="466.22" cy="170.36" r="2.7" stroke-width="0.95"/>
<circle cx="466.4" cy="170.8" r="2.7" stroke-width="0.95"/>
<circle cx="466.58" cy="170.54" r="2.7" stroke-width="0.95"/>
<circle cx="466.76" cy="170.37" r="2.7" stroke-width="0.95"/>
<circle cx="466.93" cy="170.71" r="2.7" stroke-width="0.95"/>
<circle cx="467.11" cy="171.08" r="2.7" stroke-width="0.95"/>
<circle cx="467.29" cy="170.53" r="2.7" stroke-width="0.95"/>
<circle cx="467.46" cy="170.66" r="2.7" stroke-width="0.95"/>
<circle cx="467.64" cy="170.97" r="2.7" stroke-width="0.95"/>
<circle cx="467.81" cy="170.64" r="2.7" stroke-width="0.95"/>
<circle cx="467.99" cy="170.1" r="2.7" stroke-width="0.95"/>
<circle cx="468.16" cy="171.42" r="2.7" stroke-width="0.95"/>
<circle cx="468.33" cy="171.33" r="2.7" stroke-width="0.95"/>
<circle cx="468.5" cy="169.87" r="2.7" stroke-width="0.95"/>
<circle cx="468.68" cy="170.55" r="2.7" stroke-width="0.95"/>
<circle cx="468.85" cy="170.72" r="2.7" stroke-width="0.95"/>
<circle cx="469.02" cy="170.91" r="2.7" stroke-width="0.95"/>
<circle cx="469.19" cy="170.81" r="2.7" stroke-width="0.95"/>
<circle cx="469.36" cy="170.49" r="2.7" stroke-width="0.95"/>
<circle cx="469.53" cy="170.22" r="2.7" stroke-width="0.95"/>
<circle cx="469.69" cy="170.63" r="2.7" stroke-width="0.95"/>
<circle cx="469.86" cy="170.96" r="2.7" stroke-width="0.95"/>
<circle cx="470.03" cy="170.22" r="2.7" stroke-width="0.95"/>
<circle cx="470.2" cy="170.26" r="2.7" stroke-width="0.95"/>
<circle cx="470.36" cy="170.62" r="2.7" stroke-width="0.95"/>
<circle cx="470.53" cy="169.96" r="2.7" stroke-width="0.95"/>
<circle cx="470.69" cy="170.56" r="2.7" stroke-width="0.95"/>
<circle cx="470.86" cy="170.52" r="2.7" stroke-width="0.95"/>
<circle cx="471.02" cy="170.84" r="2.7" stroke-width="0.95"/>
<circle cx="471.19" cy="170.45" r="2.7" stroke-width="0.95"/>
<circle cx="471.35" cy="170.4" r="2.7" stroke-width="0.95"/>
<circle cx="471.51" cy="170.58" r="2.7" stroke-width="0.95"/>
<circle cx="471.67" cy="170.72" r="2.7" stroke-width="0.95"/>
<circle cx="471.83" cy="170.52" r="2.7" stroke-width="0.95"/>
<circle cx="472" cy="170.77" r="2.7" stroke-width="0.95"/>
<circle cx="472.16" cy="171.04" r="2.7" stroke-width="0.95"/>
<circle cx="472.32" cy="171.2" r="2.7" stroke-width="0.95"/>
<circle cx="472.48" cy="171.4" r="2.7" stroke-width="0.95"/>
<circle cx="472.64" cy="170.54" r="2.7" stroke-width="0.95"/>
<circle cx="472.79" cy="170.68" r="2.7" stroke-width="0.95"/>
<circle cx="472.95" cy="169.97" r="2.7" stroke-width="0.95"/>
<circle cx="473.11" cy="171.52" r="2.7" stroke-width="0.95"/>
<circle cx="473.27" cy="170.61" r="2.7" stroke-width="0.95"/>
<circle cx="473.42" cy="170.87" r="2.7" stroke-width="0.95"/>
<circle cx="473.58" cy="171.07" r="2.7" stroke-width="0.95"/>
<circle cx="473.74" cy="170.43" r="2.7" stroke-width="0.95"/>
<circle cx="473.89" cy="171.08" r="2.7" stroke-width="0.95"/>
<circle cx="474.05" cy="170.92" r="2.7" stroke-width="0.95"/>
<circle cx="474.2" cy="170.3" r="2.7" stroke-width="0.95"/>
<circle cx="474.35" cy="171.05" r="2.7" stroke-width="0.95"/>
<circle cx="474.51" cy="171.38" r="2.7" stroke-width="0.95"/>
<circle cx="474.66" cy="170.32" r="2.7" stroke-width="0.95"/>
<circle cx="474.81" cy="171.27" r="2.7" stroke-width="0.95"/>
<circle cx="474.97" cy="171.08" r="2.7" stroke-width="0.95"/>
<circle cx="475.12" cy="171.18" r="2.7" stroke-width="0.95"/>
<circle cx="475.27" cy="171.18" r="2.7" stroke-width="0.95"/>
<circle cx="475.42" cy="171.5" r="2.7" stroke-width="0.95"/>
<circle cx="475.57" cy="170.97" r="2.7" stroke-width="0.95"/>
<circle cx="475.72" cy="171.37" r="2.7" stroke-width="0.95"/>
<circle cx="475.87" cy="170.93" r="2.7" stroke-width="0.95"/>
<circle cx="476.02" cy="171.34" r="2.7" stroke-width="0.95"/>
<circle cx="476.17" cy="170.81" r="2.7" stroke-width="0.95"/>
<circle cx="476.32" cy="171.07" r="2.7" stroke-width="0.95"/>
<circle cx="476.46" cy="171.73" r="2.7" stroke-width="0.95"/>
<circle cx="476.61" cy="171.29" r="2.7" stroke-width="0.95"/>
<circle cx="476.76" cy="171.09" r="2.7" stroke-width="0.95"/>
<circle cx="476.91" cy="170.76" r="2.7" stroke-width="0.95"/>
<circle cx="477.05" cy="170.89" r="2.7" stroke-width="0.95"/>
<circle cx="477.2" cy="171.25" r="2.7" stroke-width="0.95"/>
<circle cx="477.34" cy="171.52" r="2.7" stroke-width="0.95"/>
<circle cx="477.49" cy="171.36" r="2.7" stroke-width="0.95"/>
<circle cx="477.63" cy="171.4" r="2.7" stroke-width="0.95"/>
<circle cx="477.78" cy="171.21" r="2.7" stroke-width="0.95"/>
<circle cx="477.92" cy="171.71" r="2.7" stroke-width="0.95"/>
<circle cx="478.07" cy="171.12" r="2.7" stroke-width="0.95"/>
<circle cx="478.21" cy="171.07" r="2.7" stroke-width="0.95"/>
<circle cx="478.35" cy="171.59" r="2.7" stroke-width="0.95"/>
<circle cx="478.49" cy="171.31" r="2.7" stroke-width="0.95"/>
<circle cx="478.64" cy="171.2" r="2.7" stroke-width="0.95"/>
<circle cx="478.78" cy="171.11" r="2.7" stroke-width="0.95"/>
<circle cx="478.92" cy="171.23" r="2.7" stroke-width="0.95"/>
<circle cx="479.06" cy="171.55" r="2.7" stroke-width="0.95"/>
<circle cx="479.2" cy="171.47" r="2.7" stroke-width="0.95"/>
<circle cx="479.34" cy="170.93" r="2.7" stroke-width="0.95"/>
<circle cx="479.48" cy="171.52" r="2.7" stroke-width="0.95"/>
<circle cx="479.62" cy="171.44" r="2.7" stroke-width="0.95"/>
<circle cx="479.76" cy="171.04" r="2.7" stroke-width="0.95"/>
<circle cx="479.9" cy="171.67" r="2.7" stroke-width="0.95"/>
<circle cx="480.03" cy="171.31" r="2.7" stroke-width="0.95"/>
<circle cx="480.17" cy="171.31" r="2.7" stroke-width="0.95"/>
<circle cx="480.31" cy="171.71" r="2.7" stroke-width="0.95"/>
<circle cx="480.45" cy="171.91" r="2.7" stroke-width="0.95"/>
<circle cx="480.58" cy="171.22" r="2.7" stroke-width="0.95"/>
<circle cx="480.72" cy="171.62" r="2.7" stroke-width="0.95"/>
<circle cx="480.86" cy="171.17" r="2.7" stroke-width="0.95"/>
<circle cx="480.99" cy="172.3" r="2.7" stroke-width="0.95"/>
<circle cx="481.13" cy="171.33" r="2.7" stroke-width="0.95"/>
<circle cx="481.26" cy="171.93" r="2.7" stroke-width="0.95"/>
<circle cx="481.4" cy="171.3" r="2.7" stroke-width="0.95"/>
<circle cx="481.53" cy="171.82" r="2.7" stroke-width="0.95"/>
<circle cx="481.66" cy="172.32" r="2.7" stroke-width="0.95"/>
<circle cx="481.8" cy="170.67" r="2.7" stroke-width="0.95"/>
<circle cx="481.93" cy="171.41" r="2.7" stroke-width="0.95"/>
<circle cx="482.06" cy="171.75" r="2.7" stroke-width="0.95"/>
<circle cx="482.2" cy="171.55" r="2.7" stroke-width="0.95"/>
<circle cx="482.33" cy="171.36" r="2.7" stroke-width="0.95"/>
<circle cx="482.46" cy="172.36" r="2.7" stroke-width="0.95"/>
<circle cx="482.59" cy="171.65" r="2.7" stroke-width="0.95"/>
<circle cx="482.72" cy="171.05" r="2.7" stroke-width="0.95"/>
<circle cx="482.85" cy="171.94" r="2.7" stroke-width="0.95"/>
<circle cx="482.99" cy="171.05" r="2.7" stroke-width="0.95"/>
<circle cx="483.12" cy="172.06" r="2.7" stroke-width="0.95"/>
<circle cx="483.25" cy="171.47" r="2.7" stroke-width="0.95"/>
<circle cx="483.37" cy="171.73" r="2.7" stroke-width="0.95"/>
<circle cx="483.5" cy="172.13" r="2.7" stroke-width="0.95"/>
<circle cx="483.63" cy="171.74" r="2.7" stroke-width="0.95"/>
<circle cx="483.76" cy="171.23" r="2.7" stroke-width="0.95"/>
<circle cx="483.89" cy="171.13" r="2.7" stroke-width="0.95"/>
<circle cx="484.02" cy="172.15" r="2.7" stroke-width="0.95"/>
<circle cx="484.15" cy="172" r="2.7" stroke-width="0.95"/>
<circle cx="484.27" cy="171.47" r="2.7" stroke-width="0.95"/>
<circle cx="484.4" cy="172.07" r="2.7" stroke-width="0.95"/>
<circle cx="484.53" cy="171.95" r="2.7" stroke-width="0.95"/>
<circle cx="484.65" cy="172.01" r="2.7" stroke-width="0.95"/>
<circle cx="484.78" cy="171.01" r="2.7" stroke-width="0.95"/>
<circle cx="484.91" cy="171.7" r="2.7" stroke-width="0.95"/>
<circle cx="485.03" cy="172.13" r="2.7" stroke-width="0.95"/>
<circle cx="485.16" cy="172.08" r="2.7" stroke-width="0.95"/>
<circle cx="485.28" cy="172.15" r="2.7" stroke-width="0.95"/>
<circle cx="485.41" cy="170.99" r="2.7" stroke-width="0.95"/>
<circle cx="485.53" cy="171.92" r="2.7" stroke-width="0.95"/>
<circle cx="485.66" cy="172.04" r="2.7" stroke-width="0.95"/>
<circle cx="485.78" cy="172.77" r="2.7" stroke-width="0.95"/>
<circle cx="485.9" cy="171.55" r="2.7" stroke-width="0.95"/>
<circle cx="486.03" cy="171.9" r="2.7" stroke-width="0.95"/>
<circle cx="486.15" cy="171.91" r="2.7" stroke-width="0.95"/>
<circle cx="486.27" cy="171.92" r="2.7" stroke-width="0.95"/>
<circle cx="486.39" cy="171.93" r="2.7" stroke-width="0.95"/>
<circle cx="486.52" cy="171.94" r="2.7" stroke-width="0.95"/>
<circle cx="486.64" cy="171.95" r="2.7" stroke-width="0.95"/>
<circle cx="486.76" cy="171.96" r="2.7" stroke-width="0.95"/>
<circle cx="486.88" cy="171.97" r="2.7" stroke-width="0.95"/>
<circle cx="487" cy="171.98" r="2.7" stroke-width="0.95"/>
<circle cx="487.12" cy="171.99" r="2.7" stroke-width="0.95"/>
<circle cx="487.24" cy="172" r="2.7" stroke-width="0.95"/>
<circle cx="487.36" cy="172" r="2.7"/>
</g>
<path d="M86.3 235.07h6.7l-3.35 5.8zM143.91 235.07h6.7l-3.35 5.8zM165.17 234.66h6.7l-3.35 5.8zM180.26 234.27h6.7l-3.35 5.8zM191.96 233.48h6.7l-3.35 5.8zM201.52 233.07h6.7l-3.35 5.8zM209.61 232.66h6.7l-3.35 5.8zM216.61 231.97h6.7l-3.35 5.8zM222.79 231.23h6.7l-3.35 5.8zM228.31 230.6h6.7l-3.35 5.8zM233.31 230.33h6.7l-3.35 5.8zM237.87 230.11h6.7l-3.35 5.8zM242.07 229.93h6.7l-3.35 5.8zM245.96 229.52h6.7l-3.35 5.8zM249.58 228.98h6.7l-3.35 5.8zM252.96 228.02h6.7l-3.35 5.8zM256.14 228.47h6.7l-3.35 5.8zM259.14 226.8h6.7l-3.35 5.8zM261.97 225.25h6.7l-3.35 5.8zM264.66 228.4h6.7l-3.35 5.8zM267.22 227.09h6.7l-3.35 5.8zM269.66 225.9h6.7l-3.35 5.8zM271.99 226.82h6.7l-3.35 5.8zM274.22 227.78h6.7l-3.35 5.8zM276.36 225.16h6.7l-3.35 5.8zM278.42 226.23h6.7l-3.35 5.8zM280.4 227.01h6.7l-3.35 5.8zM282.31 226.94h6.7l-3.35 5.8zM284.15 225.52h6.7l-3.35 5.8zM285.92 222.28h6.7l-3.35 5.8zM287.64 225.86h6.7l-3.35 5.8zM289.31 223.7h6.7l-3.35 5.8zM290.92 222.42h6.7l-3.35 5.8zM292.49 221.75h6.7l-3.35 5.8zM294.01 222.74h6.7l-3.35 5.8zM295.49 222h6.7l-3.35 5.8zM296.92 221.18h6.7l-3.35 5.8zM298.32 220.83h6.7l-3.35 5.8zM299.68 220.29h6.7l-3.35 5.8zM301.01 219.55h6.7l-3.35 5.8zM302.31 218.51h6.7l-3.35 5.8zM303.57 221.15h6.7l-3.35 5.8zM304.8 218.55h6.7l-3.35 5.8zM306.01 221.43h6.7l-3.35 5.8zM307.19 219.37h6.7l-3.35 5.8zM308.34 221.77h6.7l-3.35 5.8zM309.47 223.67h6.7l-3.35 5.8zM310.57 222.5h6.7l-3.35 5.8zM311.65 221.64h6.7l-3.35 5.8zM312.71 221.59h6.7l-3.35 5.8zM313.75 220.6h6.7l-3.35 5.8zM314.77 216.87h6.7l-3.35 5.8zM315.77 217.37h6.7l-3.35 5.8zM316.75 217.37h6.7l-3.35 5.8zM317.71 215.32h6.7l-3.35 5.8zM318.66 214.95h6.7l-3.35 5.8zM319.58 214.74h6.7l-3.35 5.8zM320.5 213.69h6.7l-3.35 5.8zM321.39 212.8h6.7l-3.35 5.8zM322.27 212.24h6.7l-3.35 5.8zM323.14 211.29h6.7l-3.35 5.8zM323.99 211.94h6.7l-3.35 5.8zM324.83 211.85h6.7l-3.35 5.8zM325.66 212.06h6.7l-3.35 5.8zM326.47 212.51h6.7l-3.35 5.8zM327.27 210.31h6.7l-3.35 5.8zM328.06 212.15h6.7l-3.35 5.8zM328.84 212.48h6.7l-3.35 5.8zM329.6 211.04h6.7l-3.35 5.8zM330.36 212.26h6.7l-3.35 5.8zM331.1 212.91h6.7l-3.35 5.8zM331.84 211.81h6.7l-3.35 5.8zM332.56 214.65h6.7l-3.35 5.8zM333.27 207.8h6.7l-3.35 5.8zM333.98 210.87h6.7l-3.35 5.8zM334.67 208.32h6.7l-3.35 5.8zM335.36 211.97h6.7l-3.35 5.8zM336.03 214.03h6.7l-3.35 5.8zM336.7 206.56h6.7l-3.35 5.8zM337.36 210.19h6.7l-3.35 5.8zM338.01 210.68h6.7l-3.35 5.8zM338.66 209.48h6.7l-3.35 5.8zM339.29 210.63h6.7l-3.35 5.8zM339.92 206.66h6.7l-3.35 5.8zM340.54 210.95h6.7l-3.35 5.8zM341.15 210.23h6.7l-3.35 5.8zM341.76 209.69h6.7l-3.35 5.8zM342.36 208.79h6.7l-3.35 5.8zM342.95 210.46h6.7l-3.35 5.8zM343.54 208.84h6.7l-3.35 5.8zM344.12 209.78h6.7l-3.35 5.8zM344.69 208.71h6.7l-3.35 5.8zM345.26 206.23h6.7l-3.35 5.8zM345.82 209.29h6.7l-3.35 5.8zM346.37 209.57h6.7l-3.35 5.8zM346.92 210.15h6.7l-3.35 5.8zM347.47 207.51h6.7l-3.35 5.8zM348 208.34h6.7l-3.35 5.8zM348.54 208.9h6.7l-3.35 5.8zM349.06 207.9h6.7l-3.35 5.8zM349.58 209.1h6.7l-3.35 5.8zM350.1 209.81h6.7l-3.35 5.8zM350.61 205.42h6.7l-3.35 5.8zM351.12 203.67h6.7l-3.35 5.8zM351.62 207.23h6.7l-3.35 5.8zM352.12 207.98h6.7l-3.35 5.8zM352.61 206.95h6.7l-3.35 5.8zM353.1 206.62h6.7l-3.35 5.8zM353.58 204.44h6.7l-3.35 5.8zM354.06 204.12h6.7l-3.35 5.8zM354.54 206.19h6.7l-3.35 5.8zM355.01 203.5h6.7l-3.35 5.8zM355.47 202.06h6.7l-3.35 5.8zM355.93 203.03h6.7l-3.35 5.8zM356.39 207.75h6.7l-3.35 5.8zM356.85 206.49h6.7l-3.35 5.8zM357.3 203.41h6.7l-3.35 5.8zM357.74 203.4h6.7l-3.35 5.8zM358.18 204.6h6.7l-3.35 5.8zM358.62 203.46h6.7l-3.35 5.8zM359.06 205.98h6.7l-3.35 5.8zM359.49 204.36h6.7l-3.35 5.8zM359.92 203.19h6.7l-3.35 5.8zM360.34 206.11h6.7l-3.35 5.8zM360.76 203.88h6.7l-3.35 5.8zM361.18 204.88h6.7l-3.35 5.8zM361.6 204.65h6.7l-3.35 5.8zM362.01 203.89h6.7l-3.35 5.8zM362.42 204.21h6.7l-3.35 5.8zM362.82 202.54h6.7l-3.35 5.8zM363.22 200.71h6.7l-3.35 5.8zM363.62 199.83h6.7l-3.35 5.8zM364.02 200.52h6.7l-3.35 5.8zM364.41 200.69h6.7l-3.35 5.8zM364.8 201.14h6.7l-3.35 5.8zM365.19 200.81h6.7l-3.35 5.8zM365.57 200.98h6.7l-3.35 5.8zM365.95 200.03h6.7l-3.35 5.8zM366.33 198.52h6.7l-3.35 5.8zM366.71 198.25h6.7l-3.35 5.8zM367.08 196.42h6.7l-3.35 5.8zM367.45 198.63h6.7l-3.35 5.8zM367.82 199.29h6.7l-3.35 5.8zM368.18 199.21h6.7l-3.35 5.8zM368.55 198.31h6.7l-3.35 5.8zM368.91 198.12h6.7l-3.35 5.8zM369.27 199.32h6.7l-3.35 5.8zM369.62 198.09h6.7l-3.35 5.8zM369.97 198.84h6.7l-3.35 5.8zM370.33 198.53h6.7l-3.35 5.8zM370.67 197.96h6.7l-3.35 5.8zM371.02 199.15h6.7l-3.35 5.8zM371.36 196.78h6.7l-3.35 5.8zM371.71 196.84h6.7l-3.35 5.8zM372.04 195.71h6.7l-3.35 5.8zM372.38 195.13h6.7l-3.35 5.8zM372.72 197.37h6.7l-3.35 5.8zM373.05 197.03h6.7l-3.35 5.8zM373.38 194.36h6.7l-3.35 5.8zM373.71 194.44h6.7l-3.35 5.8zM374.04 194.6h6.7l-3.35 5.8zM374.36 193.59h6.7l-3.35 5.8zM374.68 193.5h6.7l-3.35 5.8zM375 189.98h6.7l-3.35 5.8zM375.32 190.17h6.7l-3.35 5.8zM375.64 190.93h6.7l-3.35 5.8zM375.96 191.55h6.7l-3.35 5.8zM376.27 189.41h6.7l-3.35 5.8zM376.58 187.71h6.7l-3.35 5.8zM376.89 188.09h6.7l-3.35 5.8zM377.2 187.6h6.7l-3.35 5.8zM377.5 187.24h6.7l-3.35 5.8zM377.81 189.94h6.7l-3.35 5.8zM378.11 187.27h6.7l-3.35 5.8zM378.41 187.92h6.7l-3.35 5.8zM378.71 190.37h6.7l-3.35 5.8zM379.01 189.07h6.7l-3.35 5.8zM379.3 187.93h6.7l-3.35 5.8zM379.59 186.67h6.7l-3.35 5.8zM379.89 187.78h6.7l-3.35 5.8zM380.18 189.12h6.7l-3.35 5.8zM380.47 187.8h6.7l-3.35 5.8zM380.75 188.45h6.7l-3.35 5.8zM381.04 186.93h6.7l-3.35 5.8zM381.32 187.32h6.7l-3.35 5.8zM381.61 186.34h6.7l-3.35 5.8zM381.89 187.05h6.7l-3.35 5.8zM382.17 188.36h6.7l-3.35 5.8zM382.45 182.46h6.7l-3.35 5.8zM382.72 184.77h6.7l-3.35 5.8zM383 184.95h6.7l-3.35 5.8zM383.27 182.9h6.7l-3.35 5.8zM383.54 183h6.7l-3.35 5.8zM383.81 184.76h6.7l-3.35 5.8zM384.08 186.77h6.7l-3.35 5.8zM384.35 183.61h6.7l-3.35 5.8zM384.62 182.59h6.7l-3.35 5.8zM384.88 178.42h6.7l-3.35 5.8zM385.15 184.96h6.7l-3.35 5.8zM385.41 180.85h6.7l-3.35 5.8zM385.67 180.22h6.7l-3.35 5.8zM385.93 177.65h6.7l-3.35 5.8zM386.19 179.37h6.7l-3.35 5.8zM386.45 176.89h6.7l-3.35 5.8zM386.71 178.82h6.7l-3.35 5.8zM386.96 179.21h6.7l-3.35 5.8zM387.22 177.96h6.7l-3.35 5.8zM387.47 178.09h6.7l-3.35 5.8zM387.72 175.47h6.7l-3.35 5.8zM387.97 179.67h6.7l-3.35 5.8zM388.22 175.14h6.7l-3.35 5.8zM388.47 172.46h6.7l-3.35 5.8zM388.71 175.36h6.7l-3.35 5.8zM388.96 173.85h6.7l-3.35 5.8zM389.2 173.01h6.7l-3.35 5.8zM389.45 173.97h6.7l-3.35 5.8zM389.69 174.91h6.7l-3.35 5.8zM389.93 171.62h6.7l-3.35 5.8zM390.17 173.36h6.7l-3.35 5.8zM390.41 176.14h6.7l-3.35 5.8zM390.65 174.31h6.7l-3.35 5.8zM390.88 172.3h6.7l-3.35 5.8zM391.12 172.52h6.7l-3.35 5.8zM391.35 171.69h6.7l-3.35 5.8zM391.59 171.49h6.7l-3.35 5.8zM391.82 172.72h6.7l-3.35 5.8zM392.05 170.61h6.7l-3.35 5.8zM392.28 165.37h6.7l-3.35 5.8zM392.51 169.52h6.7l-3.35 5.8zM392.74 167.18h6.7l-3.35 5.8zM392.97 169.65h6.7l-3.35 5.8zM393.2 166.53h6.7l-3.35 5.8zM393.42 167.44h6.7l-3.35 5.8zM393.65 170.9h6.7l-3.35 5.8zM393.87 163.86h6.7l-3.35 5.8zM394.09 163.11h6.7l-3.35 5.8zM394.31 161.94h6.7l-3.35 5.8zM394.53 159.39h6.7l-3.35 5.8zM394.75 159.83h6.7l-3.35 5.8zM394.97 163.72h6.7l-3.35 5.8zM395.19 161.05h6.7l-3.35 5.8zM395.41 157.92h6.7l-3.35 5.8zM395.62 158.03h6.7l-3.35 5.8zM395.84 161.56h6.7l-3.35 5.8zM396.05 158.12h6.7l-3.35 5.8zM396.27 158.28h6.7l-3.35 5.8zM396.48 159.02h6.7l-3.35 5.8zM396.69 160.42h6.7l-3.35 5.8zM396.9 160.9h6.7l-3.35 5.8zM397.11 156.28h6.7l-3.35 5.8zM397.32 151.71h6.7l-3.35 5.8zM397.53 151h6.7l-3.35 5.8zM397.74 151.21h6.7l-3.35 5.8zM397.95 150.49h6.7l-3.35 5.8zM398.15 148.95h6.7l-3.35 5.8zM398.36 148.92h6.7l-3.35 5.8zM398.56 148.33h6.7l-3.35 5.8zM398.77 147.7h6.7l-3.35 5.8zM398.97 146.88h6.7l-3.35 5.8zM399.17 145.9h6.7l-3.35 5.8zM399.37 145.89h6.7l-3.35 5.8zM399.57 144.81h6.7l-3.35 5.8zM399.77 145.99h6.7l-3.35 5.8zM399.97 144.94h6.7l-3.35 5.8zM400.17 143.16h6.7l-3.35 5.8zM400.37 143.98h6.7l-3.35 5.8zM400.56 142.95h6.7l-3.35 5.8zM400.76 140.54h6.7l-3.35 5.8zM400.95 142.07h6.7l-3.35 5.8zM401.15 140.72h6.7l-3.35 5.8zM401.34 139.97h6.7l-3.35 5.8z" fill="#0000ff"/>
<line x1="56.1" y1="167.5" x2="535.5" y2="167.5" stroke="#6a6a6a" stroke-width="1.2" stroke-dasharray="1 1.993"/>
<line x1="56.1" y1="236.9" x2="535.5" y2="236.9" stroke="#8a8a8a" stroke-width="1.2" stroke-dasharray="1 1.993"/>
<path d="M89.65 167.3h0M110.91 169.91h0M126 170.95h0M137.7 169.12h0M147.26 169.2h0M155.35 170.29h0M162.35 167.73h0M168.52 168.02h0M174.05 167.03h0M179.05 166.5h0M183.61 165.62h0M187.81 165.77h0M191.69 166.4h0M195.31 165.55h0M198.7 165.7h0M201.88 164.86h0M204.87 164.75h0M207.71 164.4h0M210.4 162.82h0M212.96 164.53h0M215.4 164.09h0M217.73 163.92h0M219.96 162.12h0M222.1 161.93h0M224.16 162.42h0M226.14 162.6h0M228.04 163.04h0M229.88 162.65h0M231.66 162.91h0M233.38 161.88h0M235.05 162.44h0M236.66 162.36h0M238.23 161.42h0M239.75 163.07h0M241.22 162.06h0M242.66 162.41h0M244.06 160.92h0M245.42 160.7h0M246.75 160.88h0M248.04 160.94h0M249.31 161.38h0M250.54 160.98h0M251.75 160.34h0M252.93 159.85h0M254.08 160.07h0M255.21 161.28h0M256.31 159.65h0M257.39 160.34h0M258.45 160.38h0M259.49 158.85h0M260.51 159.92h0M261.51 160.78h0M262.49 158.21h0M263.45 159.4h0M264.39 159.48h0M265.32 158.88h0M266.23 159.79h0M267.13 159.3h0M268.01 158.17h0M268.88 159.82h0M269.73 159.63h0M270.57 159.77h0M271.4 160.08h0M272.21 159.2h0M273.01 158.95h0M273.8 157.83h0M274.58 159.2h0M275.34 158.22h0M276.1 158.28h0M276.84 157.61h0M277.57 157.77h0M278.3 158.04h0M279.01 159.35h0M279.71 156.8h0M280.41 157.17h0M281.09 158.39h0M281.77 159.24h0M282.44 158.53h0M283.1 156.62h0M283.75 156.11h0M284.39 158.21h0M285.03 157.34h0M285.66 157h0M286.28 158.52h0M286.89 158.57h0M287.5 157.81h0M288.1 157.83h0M288.69 157.92h0M289.27 158.74h0M289.85 157.96h0M290.43 157.85h0M290.99 157.83h0M291.56 156.2h0M292.11 158.3h0M292.66 158.01h0M293.2 157.65h0M293.74 155.74h0M294.27 156.7h0M294.8 157.77h0M295.32 155.74h0M295.84 156.92h0M296.35 157.79h0M296.86 156.01h0M297.36 158.16h0M297.86 157.33h0M298.35 156.77h0M298.84 157.09h0M299.32 157.3h0M299.8 156.86h0M300.27 157.6h0M300.74 156.21h0M301.21 156.36h0M301.67 157.42h0M302.13 156.63h0M302.58 155.91h0M303.03 157.25h0M303.48 157.61h0M303.92 156.14h0M304.36 155.41h0M304.8 156.31h0M305.23 156.27h0M305.66 156.12h0M306.08 157.37h0M306.5 155.52h0M306.92 157.2h0M307.33 155.27h0M307.75 155.61h0M308.15 156.64h0M308.56 156.98h0M308.96 156.75h0M309.36 156.34h0M309.76 156.16h0M310.15 156.14h0M310.54 156.42h0M310.92 155.83h0M311.31 156.14h0M311.69 156.34h0M312.07 155.88h0M312.44 156.43h0M312.82 156.25h0M313.19 157.31h0M313.56 156.02h0M313.92 155.43h0M314.29 155.44h0M314.65 155.68h0M315 156.36h0M315.36 155.39h0M315.71 155.91h0M316.06 156.97h0M316.41 153.64h0M316.76 154.7h0M317.1 155.7h0M317.44 155.79h0M317.78 155.64h0M318.12 155.12h0M318.45 155.91h0M318.79 155.6h0M319.12 154.98h0M319.45 157.17h0M319.77 155.59h0M320.1 154.88h0M320.42 155.19h0M320.74 155.06h0M321.06 155.15h0M321.38 153.11h0M321.69 154.76h0M322.01 155.85h0M322.32 154.19h0M322.63 154.98h0M322.93 155.71h0M323.24 155.61h0M323.54 156.05h0M323.85 153.63h0M324.15 154.61h0M324.45 154.58h0M324.74 155.28h0M325.04 155.6h0M325.33 152.74h0M325.62 155.53h0M325.91 153.6h0M326.2 155.17h0M326.49 153.51h0M326.78 154.73h0M327.06 155.46h0M327.34 154.43h0M327.62 154.65h0M327.9 155.08h0M328.18 154.56h0M328.46 154.36h0M328.73 155.54h0M329.01 155.15h0M329.28 154.12h0M329.55 156.37h0M329.82 153.42h0M330.09 154.94h0M330.36 154.02h0M330.62 154.3h0M330.89 154.7h0M331.15 154.31h0M331.41 154.59h0M331.67 152.94h0M331.93 152.93h0M332.19 154.49h0M332.44 153.28h0M332.7 153.21h0M332.95 152.85h0M333.21 154.88h0M333.46 154.46h0M333.71 154.98h0M333.96 153.15h0M334.21 153.82h0M334.45 152.94h0M334.7 154.35h0M334.94 154.94h0M335.19 153.05h0M335.43 154.87h0M335.67 154.41h0M335.91 153.51h0M336.15 152.14h0M336.39 154.65h0M336.62 153.5h0M336.86 153.09h0M337.09 153.82h0M337.33 153.8h0M337.56 154.6h0M337.79 152.68h0M338.02 154.28h0M338.25 154.52h0M338.48 154.47h0M338.71 153.22h0M338.93 152.77h0M339.16 154.07h0M339.38 153.37h0M339.61 153.35h0M339.83 154.3h0M340.05 153.02h0M340.27 151.47h0M340.49 152.88h0M340.71 151.75h0M340.93 153.74h0M341.15 153.34h0M341.36 152.62h0M341.58 153.05h0M341.79 153.66h0M342.01 153.07h0M342.22 153.98h0M342.43 152.92h0M342.64 153.72h0M342.85 154.04h0M343.06 154.11h0M343.27 152.37h0M343.48 153.52h0M343.68 151.43h0M343.89 152h0M344.09 151.32h0M344.3 153.57h0M344.5 151.82h0M344.71 152.72h0M344.91 152.56h0M345.11 152.66h0M345.31 152.22h0M345.51 152.82h0M345.71 153.97h0M345.91 152.64h0M346.1 152.98h0M346.3 153.31h0M346.5 152.39h0M346.69 151.58h0M346.89 152.08h0M347.08 153.28h0M347.27 151.22h0M347.47 151.99h0M347.66 153.17h0M347.85 152.99h0M348.04 152.38h0M348.23 152.96h0M348.42 152.46h0M348.61 151.43h0M348.79 151.12h0M348.98 151.79h0M349.17 152.94h0M349.35 151.81h0M349.54 151.53h0M349.72 151.61h0M349.91 151.02h0M350.09 152.06h0M350.27 151.24h0M350.45 152.38h0M350.63 150.32h0M350.82 152.31h0M350.99 151.57h0M351.17 150.57h0M351.35 152.55h0M351.53 151.78h0M351.71 150.3h0M351.89 151.29h0M352.06 152.15h0M352.24 151.57h0M352.41 152.48h0M352.59 152.43h0M352.76 152.35h0M352.93 152.08h0M353.11 152.82h0M353.28 152.29h0M353.45 152.12h0M353.62 150.2h0M353.79 152.41h0M353.96 152.7h0M354.13 151.48h0M354.3 151.33h0M354.47 153.12h0M354.64 150.33h0M354.8 151.98h0M354.97 153.43h0M355.14 150.9h0M355.3 152.09h0M355.47 152.97h0M355.63 151.45h0M355.8 151.94h0M355.96 152.18h0M356.12 150.81h0M356.29 151.4h0M356.45 151.67h0M356.61 152.05h0M356.77 151.39h0M356.93 151.25h0M357.09 150.62h0M357.25 151.09h0M357.41 152.01h0M357.57 151.4h0M357.73 150.67h0M357.89 150.66h0M358.04 153.27h0M358.2 152.11h0M358.36 151.72h0M358.51 149.28h0M358.67 151.67h0M358.82 151.55h0M358.98 152.43h0M359.13 151.48h0M359.28 151.09h0M359.44 151.51h0M359.59 149.65h0M359.74 151.86h0M359.89 151.31h0M360.04 150.53h0M360.2 152.03h0M360.35 152.38h0M360.5 149.95h0M360.65 150.49h0M360.8 151.19h0M360.94 151.09h0M361.09 150.64h0M361.24 150.19h0M361.39 152.5h0M361.53 151.67h0M361.68 149.98h0M361.83 149.85h0M361.97 152.12h0M362.12 151.57h0M362.26 152.18h0M362.41 151.4h0M362.55 150.12h0M362.7 150.96h0M362.84 149.13h0M362.98 150.17h0M363.13 150.67h0M363.27 151.09h0M363.41 150.14h0M363.55 150.58h0M363.69 151h0M363.83 150.92h0M363.97 151.1h0M364.11 150.76h0M364.25 150.35h0M364.39 151.17h0M364.53 150.6h0M364.67 149.93h0M364.81 150.06h0M364.95 150.51h0M365.08 150.42h0M365.22 150.6h0M365.36 150.47h0M365.49 150.59h0M365.63 150.34h0M365.77 149.48h0M365.9 150.73h0M366.04 151.19h0M366.17 150.71h0M366.31 150.22h0M366.44 150.69h0M366.57 149.61h0M366.71 148.9h0M366.84 150.35h0M366.97 149.59h0M367.1 150.83h0M367.24 149.45h0M367.37 148.28h0M367.5 149.46h0M367.63 151.4h0M367.76 149.92h0M367.89 149.16h0M368.02 149.6h0M368.15 150.55h0M368.28 150.52h0M368.41 150.27h0M368.54 151.23h0M368.67 150.64h0M368.79 150.08h0M368.92 150.53h0M369.05 151.31h0M369.18 150.78h0M369.3 150.8h0M369.43 149.21h0M369.56 149.9h0M369.68 150.54h0M369.81 149.76h0M369.93 150.77h0M370.06 150.4h0M370.18 150.62h0M370.31 149.77h0M370.43 151.82h0M370.55 150.83h0M370.68 149.72h0M370.8 149.94h0M370.92 151.8h0M371.05 149.59h0M371.17 150.49h0M371.29 150.55h0M371.41 149.81h0M371.53 148.92h0M371.66 149.92h0M371.78 150.03h0M371.9 150.6h0M372.02 150.33h0M372.14 149.74h0M372.26 150.35h0M372.38 150.1h0M372.5 149.84h0M372.62 149.71h0M372.73 149.48h0M372.85 150.16h0M372.97 148.84h0M373.09 149.15h0M373.21 149.61h0M373.32 148.5h0M373.44 149.25h0M373.56 148.06h0M373.68 149.04h0M373.79 149.97h0M373.91 149.95h0M374.02 149.48h0M374.14 149.34h0M374.25 148.44h0M374.37 150.87h0M374.48 149.88h0M374.6 150.3h0M374.71 148.81h0M374.83 149.33h0M374.94 148.1h0M375.06 150.04h0M375.17 150.15h0M375.28 148.02h0M375.39 149.39h0M375.51 149.9h0M375.62 148.1h0M375.73 148.04h0M375.84 148.61h0M375.96 148.93h0M376.07 148.34h0M376.18 149.41h0M376.29 149.57h0M376.4 149.85h0M376.51 149.89h0M376.62 150.49h0M376.73 150.22h0M376.84 148.36h0M376.95 148.96h0M377.06 148.54h0M377.17 148.52h0M377.28 149.26h0M377.39 149.32h0M377.5 149.67h0M377.6 148.11h0M377.71 148.36h0M377.82 149.27h0M377.93 149.13h0M378.03 149.04h0M378.14 149.22h0M378.25 148.69h0M378.35 149.78h0M378.46 149.51h0M378.57 149.17h0M378.67 148.73h0M378.78 149.09h0M378.89 147.18h0M378.99 148.48h0M379.1 149.23h0M379.2 148.07h0M379.31 149.34h0M379.41 149.3h0M379.51 148.15h0M379.62 148.99h0M379.72 148.93h0M379.83 149.51h0M379.93 149.61h0M380.03 149.12h0M380.14 148.5h0M380.24 149.03h0M380.34 149.08h0M380.44 149.67h0M380.55 149.34h0M380.65 148.57h0M380.75 148.09h0M380.85 148.82h0M380.95 148.54h0M381.06 148.25h0M381.16 148.99h0M381.26 148.7h0M381.36 149.14h0M381.46 149.45h0M381.56 148.74h0M381.66 150.79h0M381.76 148.8h0M381.86 149.86h0M381.96 149.12h0M382.06 149.86h0M382.16 147.23h0M382.26 148.45h0M382.36 149.19h0M382.45 149.45h0M382.55 150.74h0M382.65 149.23h0M382.75 149.94h0M382.85 149.55h0M382.94 149.68h0M383.04 149.34h0M383.14 148.84h0M383.24 149.33h0M383.33 148.14h0M383.43 149.82h0M383.53 148.17h0M383.62 149.11h0M383.72 150.51h0M383.82 148.75h0M383.91 148.92h0M384.01 149.77h0M384.1 148.92h0M384.2 148.28h0M384.29 149.08h0M384.39 149.32h0M384.48 149.41h0M384.58 148.29h0M384.67 150.18h0M384.77 150.11h0M384.86 148.86h0M384.96 149.05h0M385.05 148.52h0M385.14 149.89h0M385.24 148.3h0M385.33 149.33h0M385.42 148.46h0M385.52 148.29h0M385.61 149.34h0M385.7 149.8h0M385.8 148.78h0M385.89 148.28h0M385.98 149.39h0M386.07 148.74h0M386.16 149h0M386.26 149.91h0M386.35 149.61h0M386.44 148.36h0M386.53 150.46h0M386.62 148.74h0M386.71 149.32h0M386.8 148.24h0M386.89 148.69h0M386.98 147.41h0M387.07 150.05h0M387.16 149.73h0M387.25 147.79h0M387.34 147.57h0M387.43 147.48h0M387.52 149.57h0M387.61 148.34h0M387.7 148.63h0M387.79 148.43h0M387.88 148.57h0M387.97 147.84h0M388.06 148.67h0M388.15 147.58h0M388.23 148.6h0M388.32 148.89h0" stroke="#000" stroke-width="5.9" stroke-linecap="round"/>
<rect x="53.3" y="16.2" width="483" height="323" fill="none" stroke="#000" stroke-width="1.4"/>
<path d="M46.8 339.2H53.3M49.9 312.28H53.3M46.8 285.37H53.3M49.9 258.45H53.3M46.8 231.53H53.3M49.9 204.62H53.3M46.8 177.7H53.3M49.9 150.78H53.3M46.8 123.87H53.3M49.9 96.95H53.3M46.8 70.03H53.3M49.9 43.12H53.3M46.8 16.2H53.3M53.3 339.2V342.6M74.56 339.2V342.6M89.65 339.2V342.6M101.35 339.2V342.6M110.91 339.2V342.6M119 339.2V342.6M126 339.2V342.6M132.18 339.2V342.6M137.7 339.2V345.7M174.05 339.2V342.6M195.31 339.2V342.6M210.4 339.2V342.6M222.1 339.2V342.6M231.66 339.2V342.6M239.75 339.2V342.6M246.75 339.2V342.6M252.93 339.2V342.6M258.45 339.2V345.7M294.8 339.2V342.6M316.06 339.2V342.6M331.15 339.2V342.6M342.85 339.2V342.6M352.41 339.2V342.6M360.5 339.2V342.6M367.5 339.2V342.6M373.68 339.2V342.6M379.2 339.2V345.7M415.55 339.2V342.6M436.81 339.2V342.6M451.9 339.2V342.6M463.6 339.2V342.6M473.16 339.2V342.6M481.25 339.2V342.6M488.25 339.2V342.6M494.43 339.2V342.6M499.95 339.2V345.7M536.3 339.2V342.6" stroke="#000" stroke-width="1.4" fill="none"/>
<g stroke="#000" stroke-width="0.12" stroke-linejoin="round">
<g font-family="'Liberation Serif', 'Times New Roman', serif" font-size="17" fill="#000" text-anchor="end">
<text x="42.6" y="344.5">0</text>
<text x="42.6" y="290.67">1</text>
<text x="42.6" y="236.83">2</text>
<text x="42.6" y="183">3</text>
<text x="42.6" y="129.17">4</text>
<text x="42.6" y="75.33">5</text>
<text x="42.6" y="21.5">6</text>
</g>
<g font-family="'Liberation Serif', 'Times New Roman', serif" font-size="16" fill="#000">
<text transform="translate(127.6 366.8) scale(1 1.08)">10<tspan font-size="11" dx="0.3" dy="-7.2">2</tspan></text>
<text transform="translate(248.35 366.8) scale(1 1.08)">10<tspan font-size="11" dx="0.3" dy="-7.2">3</tspan></text>
<text transform="translate(369.1 366.8) scale(1 1.08)">10<tspan font-size="11" dx="0.3" dy="-7.2">4</tspan></text>
<text transform="translate(489.85 366.8) scale(1 1.08)">10<tspan font-size="11" dx="0.3" dy="-7.2">5</tspan></text>
</g>
<text x="438.3" y="385" font-family="'Liberation Serif', 'Times New Roman', serif" font-size="18">t [s]</text>
<text transform="translate(24.6 200.5) rotate(-90)" font-family="'Liberation Serif', 'Times New Roman', serif" font-size="17">G' [10<tspan font-size="11" dy="-8.5">3</tspan><tspan dy="8.5" dx="1.2"> Pa]</tspan></text>
<text x="410.5" y="298" font-family="'Liberation Serif', 'Times New Roman', serif" font-size="16.7">ω = 0.05 rad/s</text>
</g>
<line x1="70.3" y1="36.1" x2="105.8" y2="36.1" stroke="#8c8c8c" stroke-width="1.2"/>
<line x1="70.3" y1="55.2" x2="105.8" y2="55.2" stroke="#ff7a7a" stroke-width="1.2"/>
<line x1="70.3" y1="74.4" x2="105.8" y2="74.4" stroke="#6a6aff" stroke-width="1.2"/>
<circle cx="88" cy="36.1" r="2.5" fill="#000"/>
<circle cx="88" cy="55.2" r="2.5" fill="#fff" stroke="#ff0000" stroke-width="0.7"/>
<path d="M84.55 72.41h6.9l-3.45 5.98z" fill="#0000ff"/>
<g font-family="'Liberation Sans', Arial, sans-serif" font-size="15.7" fill="#000" stroke="#000" stroke-width="0.12" stroke-linejoin="round">
<text x="110" y="41.5">LLDPE</text>
<text x="186" y="41.5">150 °C</text>
<text x="110" y="60.8">LDPE</text>
<text x="186" y="60.8">150 °C</text>
<text x="110" y="79.8">LLDPE</text>
<text x="186" y="79.8">170 °C</text>
</g>
</svg>
</body></html>
